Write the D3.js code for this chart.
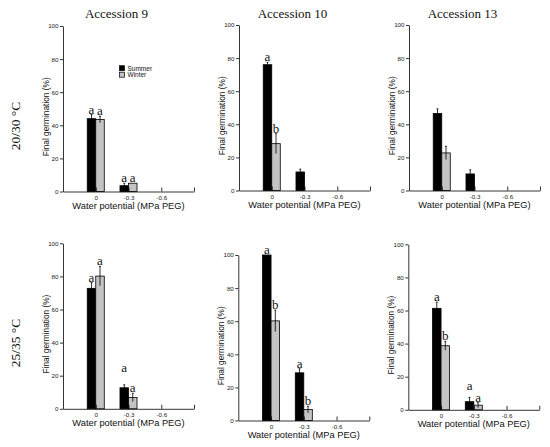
<!DOCTYPE html>
<html>
<head>
<meta charset="utf-8">
<script src="https://cdn.jsdelivr.net/npm/d3@7"></script>
<style>
  body { margin: 0; background: #fff; }
  svg { display: block; }
  .tick text { font-family: "Liberation Sans", Arial, sans-serif; font-size: 6.2px; fill: #222; }
  .axis path, .axis line { stroke: #000; stroke-width: 0.8; }
</style>
</head>
<body>
<div id="chart"></div>
<script>
/* Final germination by water potential: 2 temperature regimes x 3 accessions,
   summer vs winter seed lots, mean +/- error with letter groupings. */
var potentials = [0, -0.3, -0.6];
var axisTicks = [0, -0.3, -0.6, -0.9];
var yTicks = [0, 20, 40, 60, 80, 100];
var seasons = ["Summer", "Winter"];
var accessions = ["Accession 9", "Accession 10", "Accession 13"];
var regimes = ["20/30 °C", "25/35 °C"];

// [accession][potential]
var summer2030 = [[44, 3.5, 0], [76, 11.2, 0], [46.5, 10, 0]];
var winter2030 = [[43.5, 5, 0], [28.3, 0, 0], [22.7, 0, 0]];
var summerErr2030 = [[2.5, 1.5, 0], [1.5, 1.7, 0], [2.8, 2.5, 0]];
var winterErr2030 = [[2, 0, 0], [6, 0, 0], [4, 0, 0]];
var summer2535 = [[72.8, 12.7, 0], [100, 28.8, 0], [61.3, 4.9, 0]];
var winter2535 = [[80.2, 6.9, 0], [60.2, 6.6, 0], [38.7, 2.8, 0]];
var summerErr2535 = [[3.5, 1.8, 0], [0, 2.5, 0], [3.7, 2.6, 0]];
var winterErr2535 = [[5.8, 2.5, 0], [6.5, 2, 0], [2.7, 1.5, 0]];

// [accession][potential] -> [summer letter, winter letter]
var letters2030 = [[["a", "a"], ["a", "a"]], [["a", "b"], ["", ""]], [["", ""], ["", ""]]];
var letters2535 = [[["a", "a"], ["a", "a"]], [["a", "b"], ["a", "b"]], [["a", "b"], ["a", "a"]]];
// extra lift (in %) for letters that sit higher than their error bar
var lift2535 = [[[0, 0], [7, 0]], [[0, 0], [0, 0]], [[0, 0], [4, 0]]];

var rows = [
  { regime: regimes[0], summer: summer2030, winter: winter2030, se: summerErr2030, we: winterErr2030, letters: letters2030, lift: null },
  { regime: regimes[1], summer: summer2535, winter: winter2535, se: summerErr2535, we: winterErr2535, letters: letters2535, lift: lift2535 }
];

var W = 550, H = 447, PW = 131, PH = 165.5;
// plot origins (left edge, top = 100 %) per row / column
var origins = [
  [[63, 26], [239, 25], [409, 25]],
  [[63, 243.3], [238.3, 255], [408.3, 244.3]]
];
var rowLabelY = [126, 343];

var svg = d3.select("#chart").append("svg").attr("width", W).attr("height", H);
var serif = "'Liberation Serif', 'Times New Roman', serif";
var sans = "'Liberation Sans', Arial, sans-serif";

rows.forEach(function (row, ri) {
  svg.append("text")
    .attr("transform", "translate(15," + rowLabelY[ri] + ") rotate(-90)")
    .attr("text-anchor", "middle").attr("dominant-baseline", "central")
    .attr("font-family", serif).attr("font-size", "13.5px").attr("fill", "#111")
    .text(row.regime);

  accessions.forEach(function (acc, ai) {
    var ox = origins[ri][ai][0], oy = origins[ri][ai][1];
    var g = svg.append("g").attr("transform", "translate(" + ox + "," + oy + ")");
    var x = d3.scaleLinear().domain([0.3, -0.9]).range([0, PW]);
    var y = d3.scaleLinear().domain([0, 100]).range([PH, 0]);
    var step = x(-0.3) - x(0);
    var bw = step * 0.26;

    if (ri === 0) {
      svg.append("text")
        .attr("x", ox + PW / 2 - 12).attr("y", 17.5)
        .attr("text-anchor", "middle")
        .attr("font-family", serif).attr("font-size", "13px").attr("fill", "#111")
        .text(acc);
    }

    // bars
    var bars = [];
    potentials.forEach(function (p, pi) {
      bars.push({ p: p, s: 0, v: row.summer[ai][pi], e: row.se[ai][pi],
        l: row.letters[ai][pi] ? row.letters[ai][pi][0] : "",
        lift: row.lift && row.lift[ai][pi] ? row.lift[ai][pi][0] : 0 });
      bars.push({ p: p, s: 1, v: row.winter[ai][pi], e: row.we[ai][pi],
        l: row.letters[ai][pi] ? row.letters[ai][pi][1] : "",
        lift: row.lift && row.lift[ai][pi] ? row.lift[ai][pi][1] : 0 });
    });
    var shown = bars.filter(function (d) { return d.v > 0; });
    function bx(d) { return d.s === 0 ? x(d.p) - bw : x(d.p); }

    g.selectAll("rect.bar").data(shown).join("rect").attr("class", "bar")
      .attr("x", bx).attr("width", bw)
      .attr("y", function (d) { return y(d.v); })
      .attr("height", function (d) { return y(0) - y(d.v); })
      .attr("fill", function (d) { return d.s === 0 ? "#000" : "#c3c3c3"; })
      .attr("stroke", "#000").attr("stroke-width", 0.8);

    var eb = shown.filter(function (d) { return d.e > 0; });
    g.selectAll("line.err").data(eb).join("line").attr("class", "err")
      .attr("x1", function (d) { return bx(d) + bw / 2; })
      .attr("x2", function (d) { return bx(d) + bw / 2; })
      .attr("y1", function (d) { return y(d.v - d.e); })
      .attr("y2", function (d) { return y(d.v + d.e); })
      .attr("stroke", "#000").attr("stroke-width", 0.8);
    g.selectAll("line.cap").data(eb).join("line").attr("class", "cap")
      .attr("x1", function (d) { return bx(d) + bw / 2 - 1; })
      .attr("x2", function (d) { return bx(d) + bw / 2 + 1; })
      .attr("y1", function (d) { return y(d.v + d.e); })
      .attr("y2", function (d) { return y(d.v + d.e); })
      .attr("stroke", "#000").attr("stroke-width", 0.8);

    g.selectAll("text.let").data(bars.filter(function (d) { return d.l; }))
      .join("text").attr("class", "let")
      .attr("x", function (d) { return bx(d) + bw / 2; })
      .attr("y", function (d) { return y(d.v + d.e + d.lift) - 1; })
      .attr("text-anchor", "middle")
      .attr("font-family", serif).attr("font-size", "13px").attr("fill", "#111")
      .text(function (d) { return d.l; });

    // axes
    var yAxis = d3.axisLeft(y).tickValues(yTicks).tickSize(3).tickSizeOuter(0).tickPadding(1.5);
    g.append("g").attr("class", "axis").call(yAxis);
    var xAxis = d3.axisBottom(x).tickValues(axisTicks).tickSize(-4).tickSizeOuter(0).tickPadding(3)
      .tickFormat(function (d) { return d === -0.9 ? "" : String(d); });
    var xa = g.append("g").attr("class", "axis").attr("transform", "translate(0," + PH + ")").call(xAxis);
    xa.selectAll(".tick text").attr("dy", "0.9em");

    g.append("text")
      .attr("transform", "translate(-17," + (PH / 2 + 8) + ") rotate(-90)")
      .attr("text-anchor", "middle").attr("dominant-baseline", "central")
      .attr("font-family", sans).attr("font-size", "8.3px").attr("fill", "#111")
      .text("Final germination (%)");
    g.append("text")
      .attr("x", PW / 2).attr("y", PH + 14.5)
      .attr("text-anchor", "middle").attr("dominant-baseline", "central")
      .attr("font-family", sans).attr("font-size", "9.3px").attr("fill", "#111")
      .text("Water potential (MPa PEG)");

    if (ri === 0 && ai === 0) {
      var leg = g.append("g").attr("transform", "translate(" + (x(-0.3) - 9) + "," + (y(76)) + ")");
      seasons.forEach(function (s, si) {
        leg.append("rect").attr("x", 0).attr("y", si * 6.5).attr("width", 5).attr("height", 5)
          .attr("fill", si === 0 ? "#000" : "#c3c3c3").attr("stroke", "#000").attr("stroke-width", 0.7);
        leg.append("text").attr("x", 8).attr("y", si * 6.5 + 2.5)
          .attr("dominant-baseline", "central")
          .attr("font-family", sans).attr("font-size", "6.5px").attr("fill", "#111")
          .text(s);
      });
    }
  });
});
</script>
</body>
</html>
